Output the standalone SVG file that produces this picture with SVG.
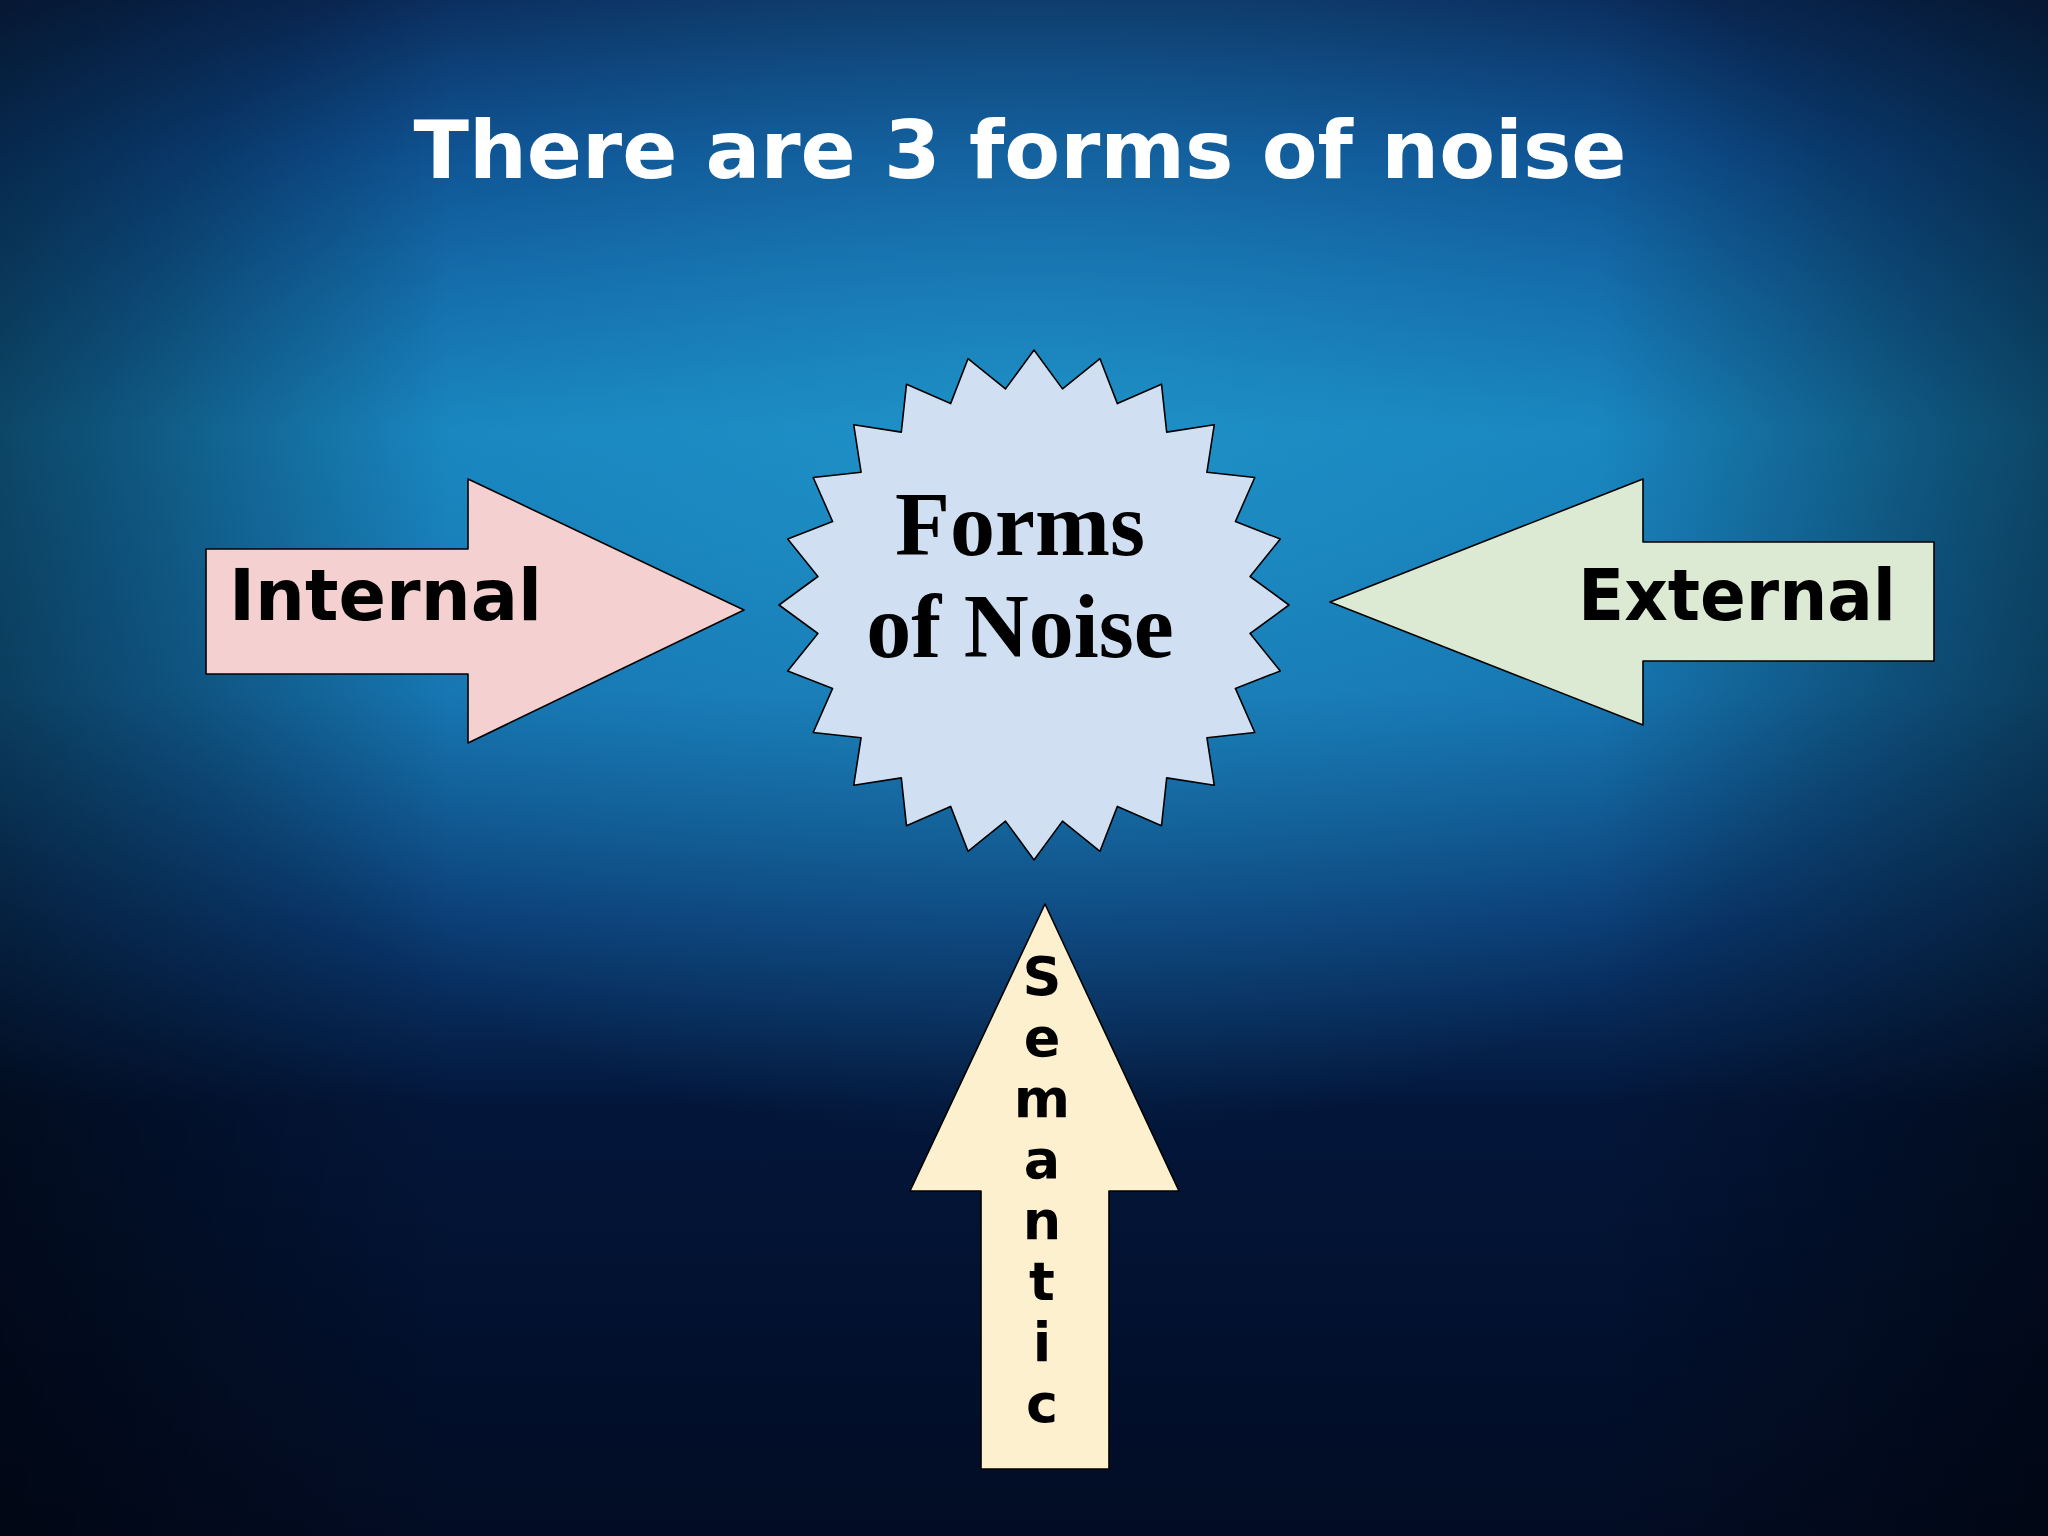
<svg xmlns="http://www.w3.org/2000/svg" width="2048" height="1536" viewBox="0 0 2048 1536">
<defs>
<linearGradient id="bg" x1="0" y1="0" x2="0" y2="1">
<stop offset="0" stop-color="#0a2a5a"/>
<stop offset="0.1" stop-color="#0c4a8c"/>
<stop offset="0.28" stop-color="#1680bb"/>
<stop offset="0.45" stop-color="#1470ad"/>
<stop offset="0.6" stop-color="#0a3a72"/>
<stop offset="0.72" stop-color="#03163a"/>
<stop offset="1" stop-color="#020c24"/>
</linearGradient>
<radialGradient id="glow" cx="0.5" cy="0.3" r="0.45">
<stop offset="0" stop-color="#2aa8d8" stop-opacity="0.45"/>
<stop offset="1" stop-color="#2aa8d8" stop-opacity="0"/>
</radialGradient>
<linearGradient id="side" x1="0" y1="0" x2="1" y2="0">
<stop offset="0" stop-color="#000" stop-opacity="0.45"/>
<stop offset="0.22" stop-color="#000" stop-opacity="0"/>
<stop offset="0.78" stop-color="#000" stop-opacity="0"/>
<stop offset="1" stop-color="#000" stop-opacity="0.45"/>
</linearGradient>
</defs>
<style>
.shape{stroke:#000;stroke-width:1.6;stroke-linejoin:round}
.lbl{font-family:"DejaVu Sans",Verdana,sans-serif;font-weight:bold;fill:#000}
.star{font-family:"Liberation Serif","Times New Roman",serif;font-weight:bold;fill:#000;font-size:90px;text-anchor:middle}
</style>
<rect width="2048" height="1536" fill="url(#bg)"/>
<rect width="2048" height="1536" fill="url(#glow)"/>
<rect width="2048" height="1536" fill="url(#side)"/>
<text x="1020" y="178" font-family="DejaVu Sans,Verdana,sans-serif" font-weight="bold" font-size="80" fill="#fff" text-anchor="middle" textLength="1213" lengthAdjust="spacingAndGlyphs">There are 3 forms of noise</text>
<g id="connectors">
<g id="internal">
<polygon class="shape" fill="#f4d0d0" points="206,549 468,549 468,479 744,610 468,743 468,674 206,674"/>
<text class="lbl" x="229" y="620" font-size="72" textLength="313" lengthAdjust="spacingAndGlyphs">Internal</text>
</g>
<g id="external">
<polygon class="shape" fill="#dce9d3" points="1934,542 1643,542 1643,479 1330,602 1643,725 1643,661 1934,661"/>
<text class="lbl" x="1578" y="620" font-size="72" textLength="318" lengthAdjust="spacingAndGlyphs">External</text>
</g>
<g id="semantic">
<polygon class="shape" fill="#fdf0cf" points="981,1469 1109,1469 1109,1191 1179,1191 1045,904 910,1191 981,1191"/>
<g class="lbl" font-size="54" text-anchor="middle">
<text x="1042" y="995">S</text>
<text x="1042" y="1056">e</text>
<text x="1042" y="1117">m</text>
<text x="1042" y="1178">a</text>
<text x="1042" y="1239">n</text>
<text x="1042" y="1300">t</text>
<text x="1042" y="1361">i</text>
<text x="1042" y="1422">c</text>
</g>
</g>
</g>
<g id="forms-of-noise">
<polygon class="shape" fill="#d0e0f2" points="1034,350 1062.5,388.9 1100,358.7 1117.4,403.6 1161.5,384.2 1166.7,432.1 1214.3,424.7 1206.9,472.3 1254.8,477.5 1235.4,521.6 1280.3,539 1250.1,576.5 1289,605 1250.1,633.5 1280.3,671 1235.4,688.4 1254.8,732.5 1206.9,737.7 1214.3,785.3 1166.7,777.9 1161.5,825.8 1117.4,806.4 1100,851.3 1062.5,821.1 1034,860 1005.5,821.1 968,851.3 950.6,806.4 906.5,825.8 901.3,777.9 853.7,785.3 861.1,737.7 813.2,732.5 832.6,688.4 787.7,671 817.9,633.5 779,605 817.9,576.5 787.7,539 832.6,521.6 813.2,477.5 861.1,472.3 853.7,424.7 901.3,432.1 906.5,384.2 950.6,403.6 968,358.7 1005.5,388.9"/>
<text class="star" x="1020" y="555">Forms</text>
<text class="star" x="1020" y="657">of Noise</text>
</g>
</svg>
